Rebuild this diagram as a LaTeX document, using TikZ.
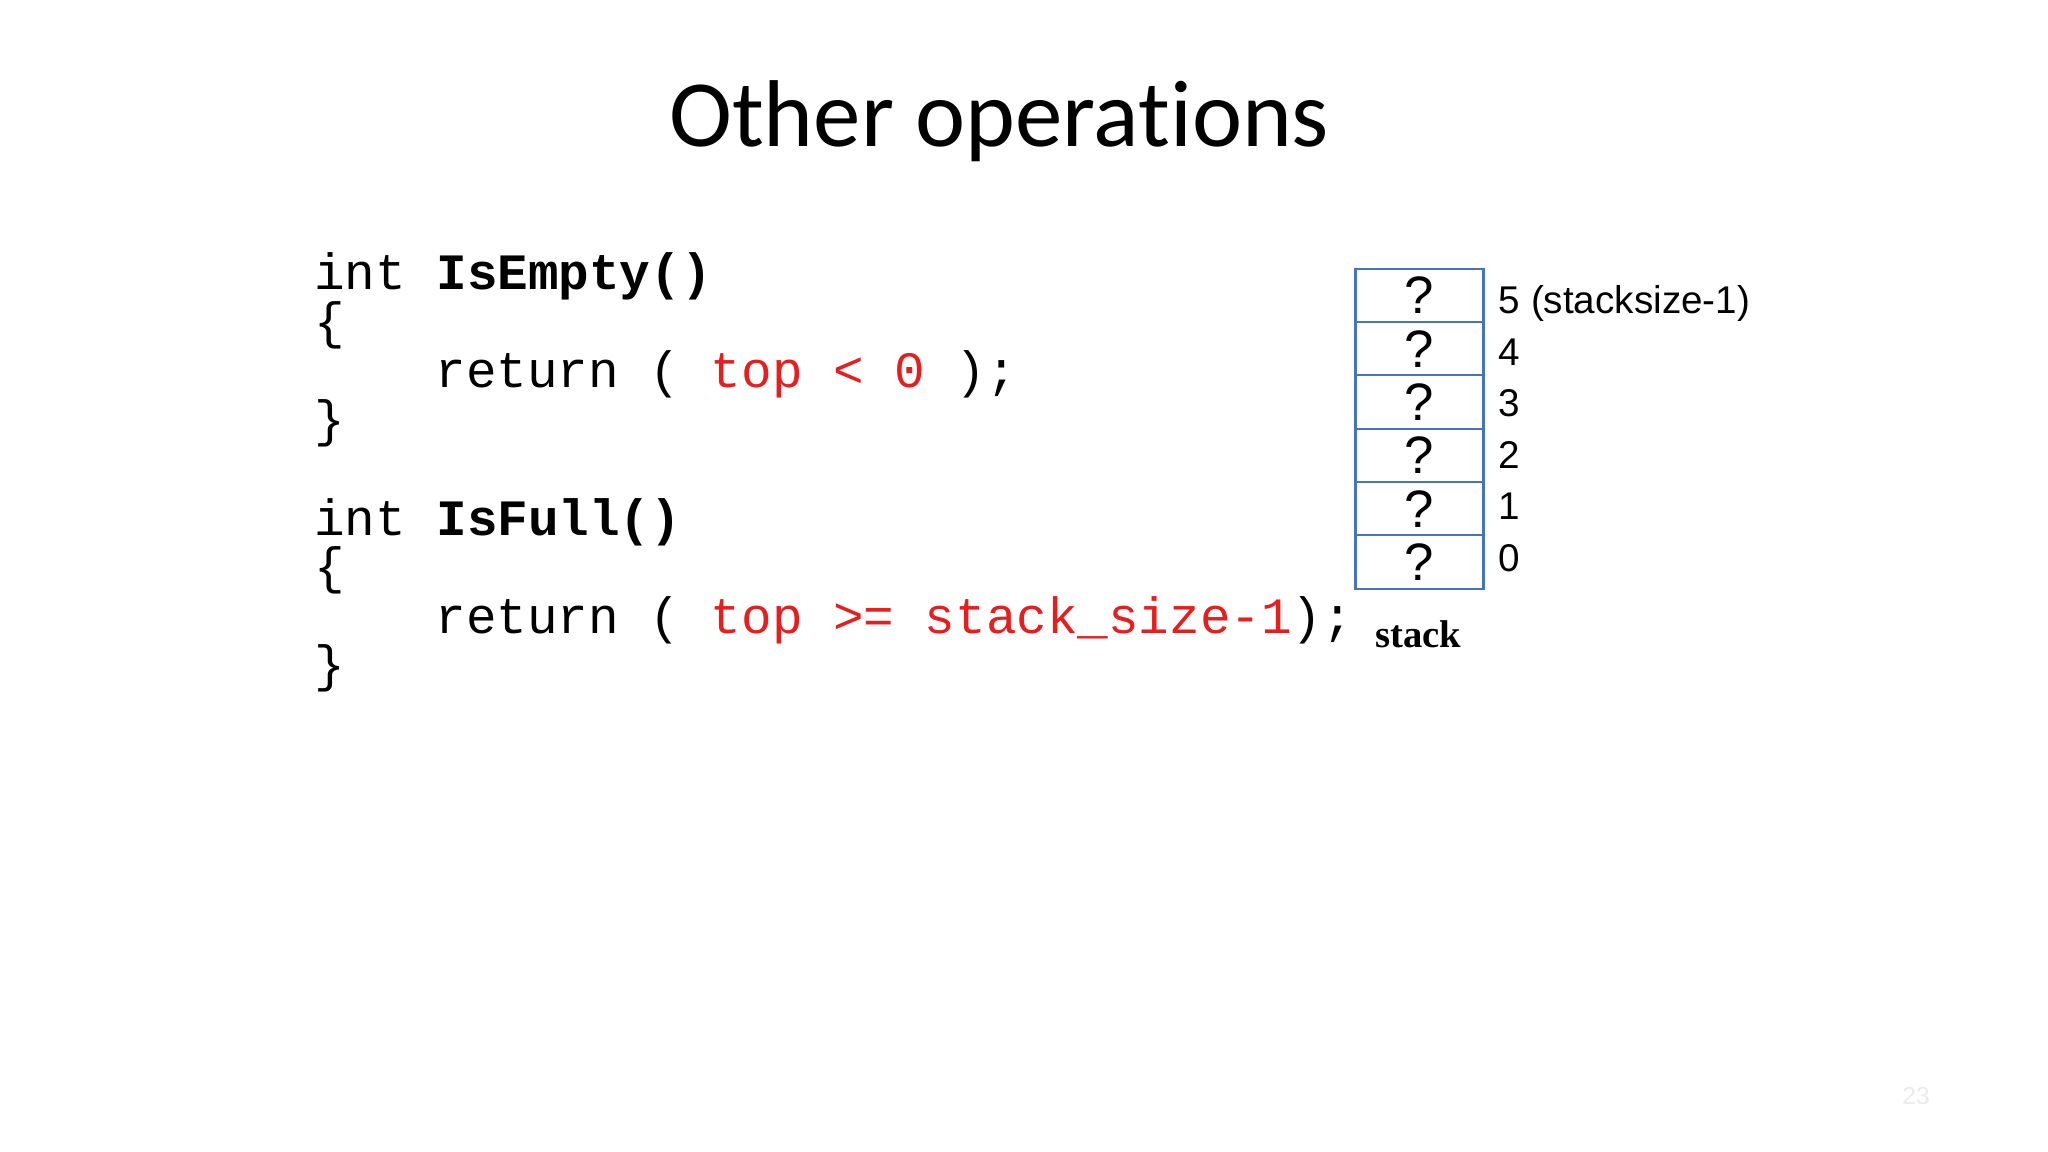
\documentclass[tikz,border=0pt]{standalone}
\usepackage{fontspec}
\setmainfont{Liberation Sans}
\newfontfamily\titlefont[Ligatures={NoCommon,NoRare}]{Carlito}
\newfontfamily\codefont{Liberation Mono}
\newfontfamily\timesfont{Liberation Serif}
\definecolor{codered}{RGB}{230,30,30}
\definecolor{boxblue}{RGB}{68,114,196}
\begin{document}
\begin{tikzpicture}[x=0.01306cm,y=-0.01306cm,
  code/.style={anchor=base west,inner sep=0,font=\codefont\fontsize{14.5pt}{16pt}\selectfont},
  cell/.style={draw=boxblue,line width=0.6pt,minimum width=1.28cm,minimum height=0.533cm,inner sep=0,anchor=north west},
  qm/.style={inner sep=0,font=\fontsize{15pt}{16pt}\selectfont},
  idx/.style={anchor=base west,inner sep=0,font=\fontsize{11pt}{13pt}\selectfont}]
\useasboundingbox (0,0) rectangle (1568,882);
\node[font=\titlefont\fontsize{27pt}{30pt}\selectfont,anchor=base] (title) at (765,112) {Other operations};
\node[code] (l1) at (240,222) {int \textbf{IsEmpty()}};
\node[code] (l2) at (240,259) {\{};
\node[code] (l3) at (333,297) {return ( \textcolor{codered}{top < 0} );};
\node[code] (l4) at (240,334) {\}};
\node[code] (l5) at (240,410) {int \textbf{IsFull()}};
\node[code] (l6) at (240,447) {\{};
\node[code] (l7) at (333,485) {return ( \textcolor{codered}{top >= stack\_size-1});};
\node[code] (l8) at (240,522) {\}};
\foreach \i/\lab in {0/5 (stacksize-1),1/4,2/3,3/2,4/1,5/0}{
  \node[cell] (c\i) at (1037,{205+40.8*\i}) {};
  \node[qm] (q\i) at (c\i.center) {?};
  \node[idx] (n\i) at (1147,{240+39.5*\i}) {\lab};
}
\node[anchor=base,inner sep=0,font=\timesfont\bfseries\fontsize{11pt}{12pt}\selectfont] (stk) at (1086,496) {stack};
\node[anchor=base,inner sep=0,text=black!8,font=\fontsize{7pt}{8pt}\selectfont] (pg) at (1467,846) {23};
\end{tikzpicture}
\end{document}
